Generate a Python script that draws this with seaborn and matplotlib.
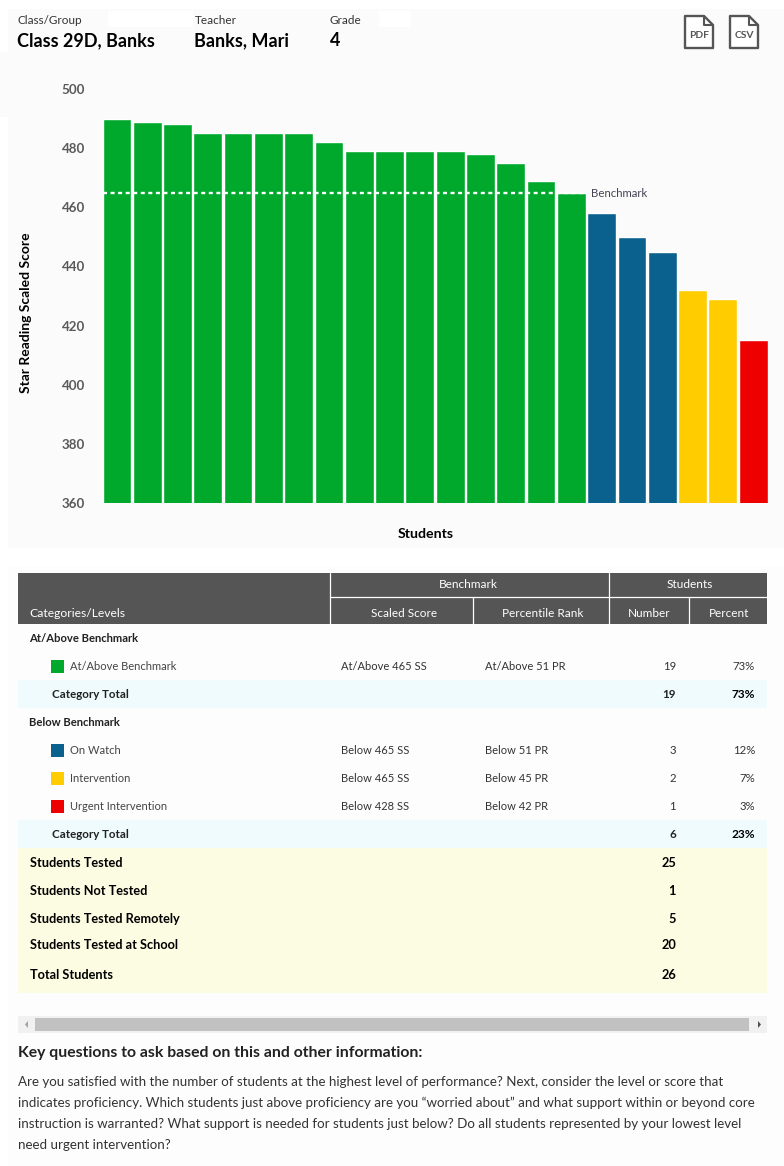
import numpy as np
import pandas as pd
import matplotlib
matplotlib.use('Agg')
import matplotlib.pyplot as plt
import seaborn as sns
from matplotlib.patches import Rectangle, Polygon

scores = [490, 489, 488, 485, 485, 485, 485, 482, 479, 479, 479, 479, 478, 475, 469, 465,
          458, 450, 445, 432, 429, 415]
levels = ['At/Above Benchmark'] * 16 + ['On Watch'] * 3 + ['Intervention'] * 2 + ['Urgent Intervention']
level_colors = {'At/Above Benchmark': '#00a92c', 'On Watch': '#0b618e',
                'Intervention': '#ffcc00', 'Urgent Intervention': '#ee0000'}
benchmark = 465
y_ticks = [360, 380, 400, 420, 440, 460, 480, 500]

head_labels = ['Class/Group', 'Teacher', 'Grade']
head_values = ['Class 29D, Banks', 'Banks, Mari', '4']

above_rows = [('At/Above Benchmark', 'At/Above 465 SS', 'At/Above 51 PR', '19', '73%')]
below_rows = [('On Watch', 'Below 465 SS', 'Below 51 PR', '3', '12%'),
              ('Intervention', 'Below 465 SS', 'Below 45 PR', '2', '7%'),
              ('Urgent Intervention', 'Below 428 SS', 'Below 42 PR', '1', '3%')]
totals = [('19', '73%'), ('6', '23%')]
summary_names = ['Students Tested', 'Students Not Tested', 'Students Tested Remotely',
                 'Students Tested at School', 'Total Students']
summary_counts = ['25', '1', '5', '20', '26']
questions = ['Are you satisfied with the number of students at the highest level of performance? Next, consider the level or score that',
             'indicates proficiency. Which students just above proficiency are you \u201cworried about\u201d and what support within or beyond core',
             'instruction is warranted? What support is needed for students just below? Do all students represented by your lowest level',
             'need urgent intervention?']

W, H = 784, 1166
BG = '#fbfbfb'
DARK = '#222222'
sns.set_theme(style='white')
plt.rcParams['font.family'] = ['Lato', 'DejaVu Sans']

df = pd.DataFrame({'student': [f's{i}' for i in range(len(scores))], 'score': scores, 'level': levels})

fig = plt.figure(figsize=(W / 100, H / 100), dpi=100, facecolor='white')

# page layer in pixel coordinates
page = fig.add_axes([0, 0, 1, 1], zorder=0)
page.set_xlim(0, W)
page.set_ylim(H, 0)
page.axis('off')

def rect(x0, y0, x1, y1, color, **kw):
    page.add_patch(Rectangle((x0, y0), x1 - x0, y1 - y0, facecolor=color, edgecolor='none', **kw))

def label(x, y, s, size=8.6, bold=False, color=DARK, ha='left', **kw):
    page.text(x, y, s, fontsize=size, fontweight='bold' if bold else 'normal', color=color,
              ha=ha, va='center', **kw)

# background panels
rect(8, 9, W, 548, BG)
rect(0, 52, 8, 117, BG)
rect(8, 566, W, H, '#fdfdfd')
rect(108, 11, 193, 27, 'white')
rect(379, 11, 411, 27, 'white')

# chart
ax = fig.add_axes([102.5 / W, 1 - 503 / H, 665 / W, 414 / H], zorder=1)
ax.patch.set_alpha(0)
sns.barplot(data=df, x='student', y='score', hue='level', palette=level_colors, dodge=False,
            width=0.95, legend=False, ax=ax, saturation=1)
ax.set_xlim(-0.475, len(scores) - 0.525)
ax.set_ylim(360, 500)
ax.set_yticks(y_ticks)
ax.set_xticks([])
ax.set_xlabel('')
ax.set_ylabel('')
ax.tick_params(axis='y', length=0, pad=12.5)
for t in ax.get_yticklabels():
    t.set_fontsize(9.6)
    t.set_fontweight('bold')
    t.set_color('#5a5a5a')
sns.despine(ax=ax, left=True, bottom=True)
ax.plot([-0.475, 15.475], [benchmark, benchmark], color='white', lw=1.7, dashes=(1.7, 1.5))
ax.text(15.65, benchmark - 0.3, 'Benchmark', fontsize=8.2, color='#444455', va='center', ha='left')

label(26, 313, 'Star Reading Scaled Score', 10, True, 'black', rotation=90)
page.texts[-1].set_ha('center')
label(426, 534.5, 'Students', 10.2, True, 'black', 'center')

# header
for x, a, b in zip([18, 195, 330], head_labels, head_values):
    label(x, 20, a, 8.5, False, '#333333')
    label(x - 0.5, 41, b, 13, True, 'black')

def file_icon(x0, text):
    x1, y0, y1 = x0 + 28, 16, 48
    pts = [(x0, y0), (x1 - 9, y0), (x1, y0 + 9), (x1, y1), (x0, y1)]
    page.add_patch(Polygon(pts, closed=True, facecolor='white', edgecolor='#555555', lw=1.7, joinstyle='round'))
    page.plot([x1 - 9, x1 - 9, x1], [y0, y0 + 9, y0 + 9], color='#555555', lw=1.5)
    label(x0 + 14, 35, text, 7.4, True, '#555555', 'center')

file_icon(685, 'PDF')
file_icon(730, 'CSV')

# table header
rect(18, 573, 767, 624, '#555555')
for x, y0, y1 in [(330, 573, 624), (609, 573, 624), (473, 597, 624), (689, 597, 624)]:
    page.plot([x, x], [y0, y1], color='white', lw=0.9)
page.plot([330, 767], [597, 597], color='white', lw=0.9)
label(29.5, 613.5, 'Categories/Levels', 8.7, False, 'white')
label(468, 584, 'Benchmark', 8.6, False, 'white', 'center')
label(690, 584, 'Students', 8.6, False, 'white', 'center')
for x, s in [(404, 'Scaled Score'), (543, 'Percentile Rank'), (649, 'Number'), (729, 'Percent')]:
    label(x, 613.5, s, 8.5, False, 'white', 'center')

def level_row(y, row):
    rect(51, y - 6.5, 64, y + 6.5, level_colors[row[0]])
    label(70, y, row[0], 8, False, '#444444')
    label(341, y, row[1], 8, False, '#333333')
    label(485, y, row[2], 8, False, '#333333')
    label(676, y, row[3], 8.2, False, '#333333', 'right')
    label(755, y, row[4], 8.2, False, '#333333', 'right')

def total_row(y, vals):
    rect(18, y - 14, 767, y + 14, '#effbfd')
    label(52, y, 'Category Total', 8.3, True, DARK)
    label(676, y, vals[0], 8.4, True, DARK, 'right')
    label(755, y, vals[1], 8.6, True, 'black', 'right')

label(29.5, 638, 'At/Above Benchmark', 8.1, True, DARK)
level_row(666, above_rows[0])
total_row(694, totals[0])
label(29.5, 722, 'Below Benchmark', 8.1, True, DARK)
for y, row in zip([750, 778, 806], below_rows):
    level_row(y, row)
total_row(834, totals[1])

# summary block
rect(18, 848, 767, 993, '#fcfce2')
for y, name, n in zip([863, 891, 919, 945, 975], summary_names, summary_counts):
    label(30, y, name, 9.2, True, 'black')
    label(676, y, n, 9.2, True, 'black', 'right')

# scroll bar
rect(18, 1016, 767, 1033, '#f1f1f1')
rect(35, 1018, 749, 1031, '#c1c1c1')
page.add_patch(Polygon([(28, 1021), (25, 1024.5), (28, 1028)], closed=True, facecolor='#a3a3a3', edgecolor='none'))
page.add_patch(Polygon([(758, 1021), (761, 1024.5), (758, 1028)], closed=True, facecolor='#505050', edgecolor='none'))

label(18, 1053, 'Key questions to ask based on this and other information:', 11.35, True, '#222222')
for y, line in zip([1082, 1103, 1124, 1145], questions):
    label(18, y, line, 9.64, False, '#333333')

fig.savefig('out.png', dpi=100, facecolor=fig.get_facecolor())
